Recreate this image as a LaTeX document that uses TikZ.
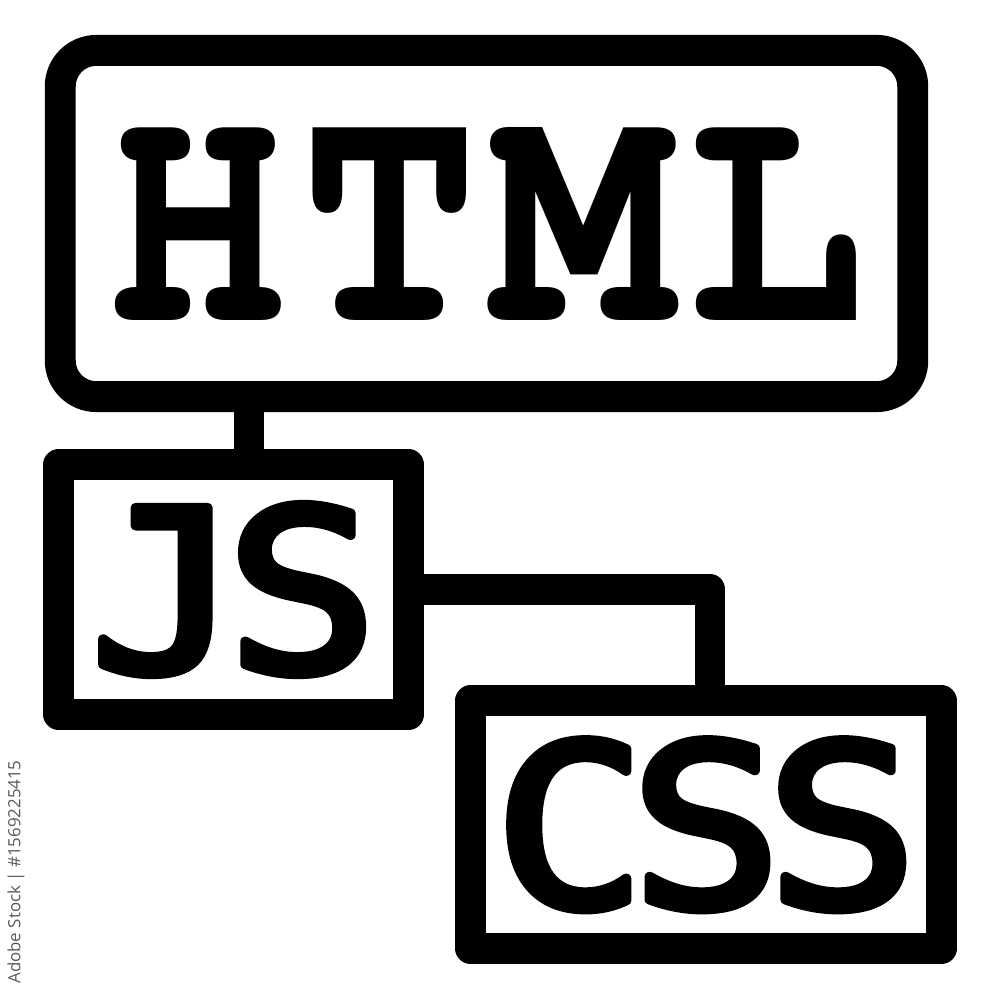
\documentclass[tikz,border=0pt]{standalone}
\usepackage{fontspec}
\newfontfamily\htmlfont{texgyrecursor-bold.otf}
\newfontfamily\codefont{DejaVu Sans Mono}[FakeBold=4]
\newfontfamily\wmfont{Open Sans}
\begin{document}
\begin{tikzpicture}[x=0.01cm,y=-0.01cm,
  iconline/.style={line width=8.8pt, line join=round},
  box/.style={draw, iconline, inner sep=0pt, anchor=center},
  htmlbox/.style={box, rounded corners=0.36cm, minimum width=8.52cm, minimum height=3.46cm,
     font=\htmlfont\fontsize{94pt}{94pt}\selectfont},
  codebox/.style={box, font=\codefont\fontsize{64pt}{64pt}\selectfont},
  conn/.style={draw, iconline}]
\useasboundingbox (0,0) rectangle (1000,1000);
\node[htmlbox] (html) at (486.5,223.5) {\scalebox{0.9}[1]{H\kern4.5pt T\kern4.5pt M\kern4.5pt L}};
\node[codebox, minimum width=3.5cm, minimum height=2.49cm] (js) at (233.7,589.5) {\scalebox{1.12}[1]{J\kern-4pt S}};
\node[codebox, minimum width=4.7cm, minimum height=2.475cm] (css) at (706,824.75) {\scalebox{1.12}[1]{C\kern-4pt S\kern-4pt S}};
\coordinate (c1) at (249,0);
\coordinate (c2) at (710,0);
\draw[conn] (html.south -| c1) -- (js.north -| c1);
\draw[conn] (js.east) -| (css.north -| c2);
\node[rotate=90, text=black!65, inner sep=0pt, font=\wmfont\fontsize{4.8pt}{5pt}\selectfont] (wm) at (16,872) {Adobe Stock | \#1569225415};
\end{tikzpicture}
\end{document}
